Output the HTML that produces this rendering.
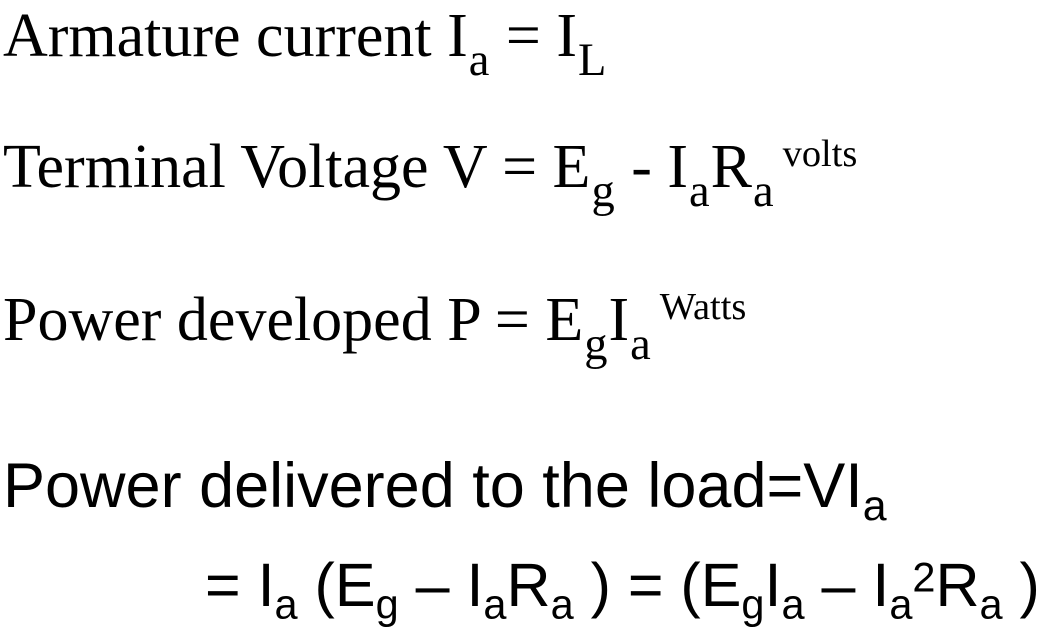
<!DOCTYPE html>
<html><head><meta charset="utf-8"><style>
body{margin:0;width:1056px;height:635px;background:#fff;overflow:hidden;position:relative;color:#000}
.l{position:absolute;white-space:nowrap;line-height:1}
.s{font-family:"Liberation Serif",serif;font-size:62px}
.a{font-family:"Liberation Sans",sans-serif;font-size:62px}
.s .sb{font-size:0.75em;vertical-align:-0.4em;padding:0 1px}
.a .sb{font-size:0.68em;vertical-align:-0.3em}
.sp{font-size:0.62em;vertical-align:0.55em;padding-left:8px}
</style></head><body>
<div class="l s" style="left:3px;top:5px">Armature current I<span class="sb">a</span> = I<span class="sb">L</span></div>
<div class="l s" style="left:3px;top:135px">Terminal Voltage V = E<span class="sb">g</span> - I<span class="sb">a</span>R<span class="sb">a</span><span class="sp">volts</span></div>
<div class="l s" style="left:3px;top:288px">Power developed P = E<span class="sb">g</span>I<span class="sb">a</span><span class="sp">Watts</span></div>
<div class="l a" style="left:3px;top:455px;font-size:63px">Power delivered to the load=VI<span class="sb">a</span></div>
<div class="l a" style="left:205px;top:555px;font-size:61px">= I<span class="sb">a</span> (E<span class="sb">g</span> – I<span class="sb">a</span>R<span class="sb">a</span> ) = (E<span class="sb">g</span>I<span class="sb">a</span> – I<span class="sb">a</span><span style="font-size:0.68em;vertical-align:0.35em">2</span>R<span class="sb">a</span> )</div>
</body></html>
